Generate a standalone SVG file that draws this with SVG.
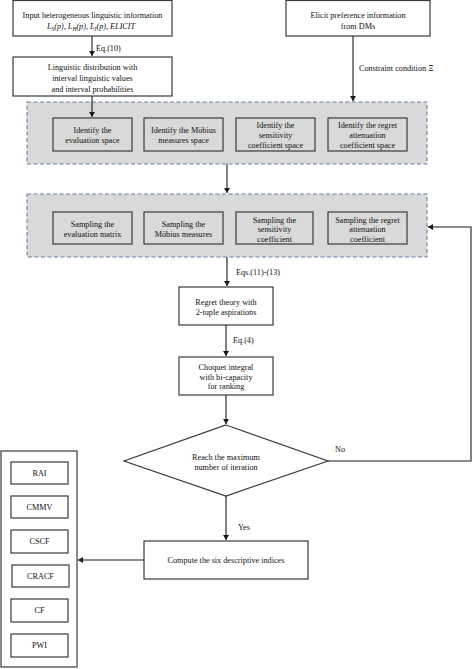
<svg xmlns="http://www.w3.org/2000/svg" width="474" height="669" viewBox="0 0 474 669">
<defs>
<marker id="ah" markerWidth="6" markerHeight="6" refX="5" refY="3" orient="auto" markerUnits="userSpaceOnUse">
<path d="M0,0 L5,3 L0,6 z" fill="#1a1a1a"/>
</marker>
<style>
.box{fill:#ffffff;stroke:#3a3a3a;stroke-width:1.2}
.ibox{fill:#d9d9d9;stroke:#3a3a3a;stroke-width:1.2}
.cont{fill:#d9d9d9;stroke:#6a80a8;stroke-width:1.1;stroke-dasharray:4 2.5}
.t{font-family:"Liberation Serif","Times New Roman",serif;font-size:8.2px;fill:#111111;text-anchor:middle}
.l{font-family:"Liberation Serif","Times New Roman",serif;font-size:8.2px;fill:#111111;text-anchor:start}
.c{fill:none;stroke:#1a1a1a;stroke-width:1.1}
</style>
</defs>
<rect width="474" height="669" fill="#ffffff"/>

<g id="n_input">
<rect class="box" x="13" y="0.5" width="159" height="35.5"/>
<text class="t" x="92.5" y="17.5">Input heterogeneous linguistic information</text>
<text class="t" x="91" y="29" font-style="italic">L<tspan font-size="5.5" dy="1.5">S</tspan><tspan dy="-1.5">(p), L</tspan><tspan font-size="5.5" dy="1.5">H</tspan><tspan dy="-1.5">(p), L̄</tspan><tspan font-size="5.5" dy="1.5">I</tspan><tspan dy="-1.5">(p), ELICIT</tspan></text>
</g>

<g id="n_elicit">
<rect class="box" x="286" y="0.5" width="144" height="35.5"/>
<text class="t" x="358" y="17.5">Elicit preference information</text>
<text class="t" x="358" y="28.5">from DMs</text>
</g>

<g id="n_distribution">
<rect class="box" x="13" y="57" width="159" height="39"/>
<text class="t" x="92.5" y="69.5">Linguistic distribution with</text>
<text class="t" x="92.5" y="80.5">interval linguistic values</text>
<text class="t" x="92.5" y="91.5">and interval probabilities</text>
</g>

<g id="n_identify">
<rect class="cont" x="27" y="102" width="400" height="62"/>
<rect class="ibox" x="53" y="118" width="79" height="33"/>
<text class="t" x="92.5" y="132.5">Identify the</text>
<text class="t" x="92.5" y="142.5">evaluation space</text>
<rect class="ibox" x="144" y="118" width="79" height="33"/>
<text class="t" x="183.5" y="132.5">Identify the Möbius</text>
<text class="t" x="183.5" y="142.5">measures space</text>
<rect class="ibox" x="236" y="118" width="79" height="33"/>
<text class="t" x="275.5" y="127.5">Identify the</text>
<text class="t" x="275.5" y="137.5">sensitivity</text>
<text class="t" x="275.5" y="147.5">coefficient space</text>
<rect class="ibox" x="328" y="118" width="79" height="33"/>
<text class="t" x="367.5" y="127.5">Identify the regret</text>
<text class="t" x="367.5" y="137.5">attenuation</text>
<text class="t" x="367.5" y="147.5">coefficient space</text>
</g>

<g id="n_sampling">
<rect class="cont" x="27" y="194" width="400" height="63"/>
<rect class="ibox" x="53" y="212" width="79" height="32"/>
<text class="t" x="92.5" y="226.5">Sampling the</text>
<text class="t" x="92.5" y="236.5">evaluation matrix</text>
<rect class="ibox" x="144" y="212" width="79" height="32"/>
<text class="t" x="183.5" y="226.5">Sampling the</text>
<text class="t" x="183.5" y="236.5">Möbius measures</text>
<rect class="ibox" x="236" y="212" width="77" height="32"/>
<text class="t" x="274.5" y="222.5">Sampling the</text>
<text class="t" x="274.5" y="232">sensitivity</text>
<text class="t" x="274.5" y="241.5">coefficient</text>
<rect class="ibox" x="328" y="212" width="79" height="32"/>
<text class="t" x="367.5" y="222.5">Sampling the regret</text>
<text class="t" x="367.5" y="232">attenuation</text>
<text class="t" x="367.5" y="241.5">coefficient</text>
</g>

<g id="n_regret">
<rect class="box" x="179" y="287" width="94" height="38"/>
<text class="t" x="226" y="304.5">Regret theory with</text>
<text class="t" x="226" y="314.5">2-tuple aspirations</text>
</g>

<g id="n_choquet">
<rect class="box" x="179" y="357" width="94" height="38"/>
<text class="t" x="226" y="369.5">Choquet integral</text>
<text class="t" x="226" y="379.5">with bi-capacity</text>
<text class="t" x="226" y="389">for ranking</text>
</g>

<g id="n_decision">
<polygon class="box" points="226,425 328,461 226,496 124,461"/>
<text class="t" x="226" y="459.5">Reach the maximum</text>
<text class="t" x="226" y="469.5">number of iteration</text>
</g>

<g id="n_compute">
<rect class="box" x="144" y="541" width="164" height="38"/>
<text class="t" x="226" y="562.5">Compute the six descriptive indices</text>
</g>

<g id="n_indices">
<rect class="box" x="1" y="451" width="76" height="216"/>
<rect class="box" x="11" y="462" width="57" height="22"/>
<text class="t" x="39.5" y="475.5">RAI</text>
<rect class="box" x="11" y="496" width="57" height="22"/>
<text class="t" x="39.5" y="509.5">CMMV</text>
<rect class="box" x="11" y="530" width="57" height="23"/>
<text class="t" x="39.5" y="544">CSCF</text>
<rect class="box" x="12" y="565" width="57" height="22"/>
<text class="t" x="40.5" y="578.5">CRACF</text>
<rect class="box" x="11" y="599" width="57" height="23"/>
<text class="t" x="39.5" y="613">CF</text>
<rect class="box" x="11" y="634" width="57" height="23"/>
<text class="t" x="39.5" y="648">PWI</text>
</g>

<g id="connectors">
<line class="c" x1="92" y1="36" x2="92" y2="56" marker-end="url(#ah)"/>
<text class="l" x="96" y="51">Eq.(10)</text>
<line class="c" x1="92" y1="96" x2="92" y2="117" marker-end="url(#ah)"/>
<line class="c" x1="353" y1="36" x2="353" y2="101" marker-end="url(#ah)"/>
<text class="l" x="359" y="71">Constraint condition Ξ</text>
<line class="c" x1="227" y1="164" x2="227" y2="193" marker-end="url(#ah)"/>
<line class="c" x1="227" y1="257" x2="227" y2="286" marker-end="url(#ah)"/>
<text class="l" x="236" y="275">Eqs.(11)-(13)</text>
<line class="c" x1="226" y1="325" x2="226" y2="356" marker-end="url(#ah)"/>
<text class="l" x="233" y="343">Eq.(4)</text>
<line class="c" x1="226" y1="395" x2="226" y2="424" marker-end="url(#ah)"/>
<polyline class="c" points="328,461 471,461 471,227 428,227" marker-end="url(#ah)"/>
<text class="l" x="335" y="452">No</text>
<line class="c" x1="226" y1="496" x2="226" y2="540" marker-end="url(#ah)"/>
<text class="l" x="238" y="530">Yes</text>
<line class="c" x1="144" y1="560" x2="78" y2="560" marker-end="url(#ah)"/>
</g>
</svg>
